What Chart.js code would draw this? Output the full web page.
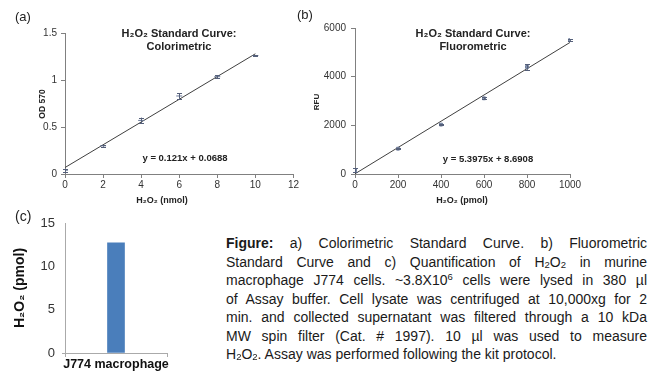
<!DOCTYPE html>
<html><head><meta charset="utf-8">
<script src="https://cdn.jsdelivr.net/npm/chart.js@4"></script>
<style>
body{margin:0;width:650px;height:380px;position:relative;background:#fff;overflow:hidden}
canvas{position:absolute}
#cap{position:absolute;left:226px;top:234px;width:421px;font-family:'Liberation Sans',Arial,sans-serif;font-size:14px;line-height:18.5px;color:#1a1a1a}
#cap div{text-align:justify;text-align-last:justify;white-space:normal}
#cap div.last{text-align-last:left}
#cap sub,#cap sup{font-size:9.5px;line-height:0}
#cap sub{vertical-align:baseline;position:relative;top:1px}
#cap sup{vertical-align:baseline;position:relative;top:-5px}
</style></head>
<body>
<canvas id="ca" width="300" height="215" style="left:0;top:0"></canvas>
<canvas id="cb" width="310" height="215" style="left:290px;top:0"></canvas>
<canvas id="cc" width="210" height="175" style="left:0;top:205px"></canvas>
<div id="cap">
<div><b>Figure:</b> a) Colorimetric Standard Curve. b) Fluorometric</div>
<div>Standard Curve and c) Quantification of H<sub>2</sub>O<sub>2</sub> in murine</div>
<div>macrophage J774 cells. ~3.8X10<sup>6</sup> cells were lysed in 380 µl</div>
<div>of Assay buffer. Cell lysate was centrifuged at 10,000xg for 2</div>
<div>min. and collected supernatant was filtered through a 10 kDa</div>
<div>MW spin filter (Cat. # 1997). 10 µl was used to measure</div>
<div class="last">H<sub>2</sub>O<sub>2</sub>. Assay was performed following the kit protocol.</div>
</div>
<script>
// ---- data ----
const colorX = [0, 2, 4, 6, 8, 10];
const colorY = [0.04, 0.30, 0.57, 0.83, 1.035, 1.26];
const colorErr = [0.015, 0.01, 0.03, 0.03, 0.015, 0.005];
const colorTrendX = [0, 10];
const colorTrendY = [0.0688, 1.2788];
const colorEquation = 'y = 0.121x + 0.0688';

const fluorX = [0, 200, 400, 600, 800, 1000];
const fluorY = [150, 1040, 2030, 3110, 4400, 5500];
const fluorErr = [80, 30, 20, 40, 120, 30];
const fluorTrendX = [0, 1000];
const fluorTrendY = [8.69, 5406.2];
const fluorEquation = 'y = 5.3975x + 8.6908';

const cellCategories = ['J774 macrophage'];
const cellValues = [12.7];

const ticksA_Y = [0, 0.5, 1, 1.5];
const ticksA_X = [0, 2, 4, 6, 8, 10, 12];
const ticksB_Y = [0, 2000, 4000, 6000];
const ticksB_X = [0, 200, 400, 600, 800, 1000];
const ticksC_Y = [0, 5, 10, 15];

// ---- plugins ----
const errorBars = {
  id: 'errorBars',
  afterDatasetsDraw(chart) {
    const ctx = chart.ctx;
    chart.data.datasets.forEach((ds) => {
      if (!ds.errors) return;
      const xs = chart.scales.x, ys = chart.scales.y;
      ctx.save();
      ctx.strokeStyle = ds.errColor;
      ctx.lineWidth = 1;
      ds.data.forEach((p, j) => {
        const e = ds.errors[j];
        const px = Math.round(xs.getPixelForValue(p.x)) + 0.5;
        const y1 = ys.getPixelForValue(p.y + e), y2 = ys.getPixelForValue(p.y - e);
        ctx.beginPath();
        ctx.moveTo(px, y1); ctx.lineTo(px, y2);
        ctx.moveTo(px - 2.5, Math.round(y1) + 0.5); ctx.lineTo(px + 2.5, Math.round(y1) + 0.5);
        ctx.moveTo(px - 2.5, Math.round(y2) + 0.5); ctx.lineTo(px + 2.5, Math.round(y2) + 0.5);
        ctx.stroke();
      });
      ctx.restore();
    });
  }
};
const notes = {
  id: 'notes',
  afterDraw(chart, args, opts) {
    const ctx = chart.ctx;
    (opts.items || []).forEach(it => {
      ctx.save();
      ctx.font = it.font;
      ctx.fillStyle = it.color || '#222';
      ctx.textAlign = it.align || 'center';
      ctx.textBaseline = 'middle';
      ctx.translate(it.x, it.y);
      if (it.rot) ctx.rotate(it.rot);
      ctx.fillText(it.text, 0, 0);
      ctx.restore();
    });
  }
};
Chart.register(errorBars, notes);

const FF = "'Liberation Sans', Arial, 'DejaVu Sans', sans-serif";
const axisColor = '#808080';
const tickFont = {family: FF, size: 10};

function pts(xs, ys) { return xs.map((x, i) => ({x, y: ys[i]})); }

function scatterConfig(o) {
  return {
    type: 'scatter',
    data: {
      datasets: [
        {data: pts(o.px, o.py), errors: o.err, errColor: '#55607a', pointStyle: o.pstyle,
         pointRadius: o.prad, borderColor: '#6b7a99', backgroundColor: '#8a97b3', borderWidth: 1, showLine: false},
        {type: 'line', data: pts(o.tx, o.ty), borderColor: '#404040', borderWidth: 1, pointRadius: 0, showLine: true, fill: false}
      ]
    },
    options: {
      responsive: false, animation: false, events: [],
      layout: {padding: o.pad},
      plugins: {legend: {display: false}, tooltip: {enabled: false}, notes: {items: o.notes}},
      scales: {
        x: {type: 'linear', min: o.xt[0], max: o.xt[o.xt.length - 1],
            afterBuildTicks: s => { s.ticks = o.xt.map(v => ({value: v})); },
            afterFit: s => { s.height = o.xh; },
            ticks: {font: tickFont, color: '#333', padding: 1, callback: v => String(v), maxRotation: 0},
            grid: {display: true, drawOnChartArea: false, drawTicks: true, tickLength: 4, tickColor: axisColor},
            border: {color: axisColor}},
        y: {type: 'linear', min: o.yt[0], max: o.yt[o.yt.length - 1],
            afterBuildTicks: s => { s.ticks = o.yt.map(v => ({value: v})); },
            afterFit: s => { s.width = o.yw; },
            ticks: {font: tickFont, color: '#333', padding: o.ypad, callback: v => String(v)},
            grid: {display: true, drawOnChartArea: false, drawTicks: true, tickLength: 4, tickColor: axisColor},
            border: {color: axisColor}}
      }
    }
  };
}

const boldT = "bold 11px " + FF;
const boldE = "bold 9.5px " + FF;
const boldX = "bold 9px " + FF;
const boldS = "bold 8.5px " + FF;

new Chart(document.getElementById('ca'), scatterConfig({
  px: colorX, py: colorY, err: colorErr, tx: colorTrendX, ty: colorTrendY,
  pstyle: 'line', prad: 3, xt: ticksA_X, yt: ticksA_Y, xh: 41, yw: 65, ypad: 4,
  pad: {top: 33, right: 6, left: 0, bottom: 0},
  notes: [
    {text: '(a)', x: 15, y: 17, align: 'left', font: "13px " + FF},
    {text: 'H₂O₂ Standard Curve:', x: 179, y: 34, font: boldT},
    {text: 'Colorimetric', x: 179, y: 47, font: boldT},
    {text: colorEquation, x: 185, y: 158, font: boldE},
    {text: 'OD 570', x: 43, y: 104, rot: -Math.PI / 2, font: boldS},
    {text: 'H₂O₂ (nmol)', x: 162, y: 201, font: boldX}
  ]
}));

new Chart(document.getElementById('cb'), scatterConfig({
  px: fluorX, py: fluorY, err: fluorErr, tx: fluorTrendX, ty: fluorTrendY,
  pstyle: 'rect', prad: 2, xt: ticksB_X, yt: ticksB_Y, xh: 41, yw: 65, ypad: 5,
  pad: {top: 28, right: 30, left: 0, bottom: 0},
  notes: [
    {text: '(b)', x: 7, y: 15, align: 'left', font: "13px " + FF},
    {text: 'H₂O₂ Standard Curve:', x: 183, y: 34, font: boldT},
    {text: 'Fluorometric', x: 183, y: 47, font: boldT},
    {text: fluorEquation, x: 198, y: 159, font: boldE},
    {text: 'RFU', x: 27, y: 102, rot: -Math.PI / 2, font: "bold 8px " + FF},
    {text: 'H₂O₂ (pmol)', x: 172, y: 201, font: boldX}
  ]
}));

new Chart(document.getElementById('cc'), {
  type: 'bar',
  data: {labels: cellCategories, datasets: [{data: cellValues, backgroundColor: '#4a7ebb', barThickness: 17}]},
  options: {
    responsive: false, animation: false, events: [],
    layout: {padding: {top: 18, right: 43, left: 0, bottom: 0}},
    plugins: {legend: {display: false}, tooltip: {enabled: false}, notes: {items: [
      {text: '(c)', x: 15, y: 12, align: 'left', font: "14px " + FF},
      {text: 'H₂O₂ (pmol)', x: 20, y: 83, rot: -Math.PI / 2, font: "bold 14px " + FF, color: '#111'}
    ]}},
    scales: {
      x: {afterFit: s => { s.height = 27; },
          ticks: {font: {family: FF, size: 12.5, weight: 'bold'}, color: '#111', padding: 0},
          grid: {display: true, offset: true, drawOnChartArea: false, drawTicks: true, tickLength: 4, tickColor: '#aaa'},
          border: {color: '#aaa'}},
      y: {min: 0, max: 15,
          afterBuildTicks: s => { s.ticks = ticksC_Y.map(v => ({value: v})); },
          afterFit: s => { s.width = 65; },
          ticks: {font: {family: FF, size: 13}, color: '#333', padding: 7},
          grid: {display: true, drawOnChartArea: false, drawTicks: true, tickLength: 3,
                 tickColor: c => (c.tick && c.tick.value === 0) ? '#aaa' : 'rgba(0,0,0,0)'},
          border: {color: '#aaa'}}
    }
  }
});
</script>
</body></html>
